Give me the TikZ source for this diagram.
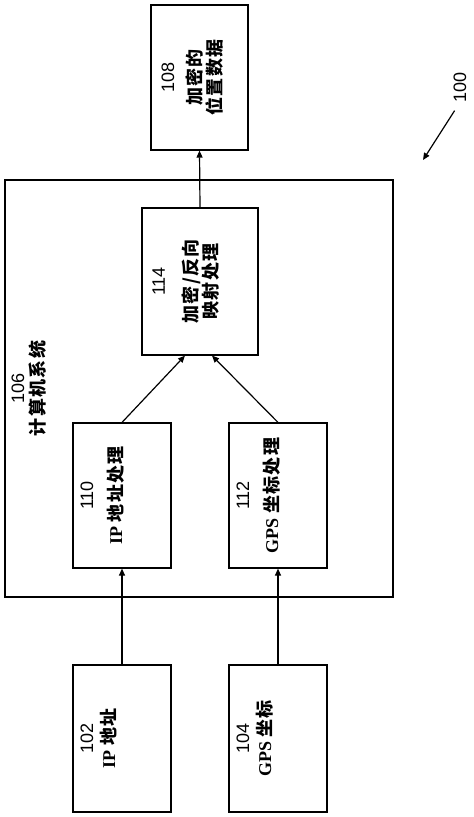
\documentclass[tikz,border=0pt]{standalone}
\usepackage{fontspec}
\setmainfont{Liberation Serif}
\newfontfamily\cjk{Noto Sans CJK SC}[LetterSpace=8]
\newfontfamily\num{Liberation Sans}
\newcommand\lblsize{\fontsize{18}{20}\selectfont}
\usetikzlibrary{arrows.meta}

\tikzset{
  blk/.style={draw, line width=1.2pt, inner sep=0pt, minimum width=98pt},
  lbl/.style={rotate=90, anchor=north, align=center, inner sep=0pt, font=\lblsize},
  flow/.style={line width=1.2pt, -{Triangle[length=7pt,width=6pt]}}
}

\begin{document}
\begin{tikzpicture}[x=1pt, y=-1pt]
  \useasboundingbox (0,0) rectangle (474,817);

  \node[blk, minimum width=97pt, minimum height=145pt] (b108) at (199.5,77.5) {};
  \node[blk, minimum width=388pt, minimum height=417pt] (b106) at (199,388.5) {};
  \node[blk, minimum width=116pt, minimum height=147pt] (b114) at (200,281.5) {};
  \node[blk, minimum height=145pt] (b110) at (122,495.5) {};
  \node[blk, minimum height=145pt] (b112) at (278,495.5) {};
  \node[blk, minimum height=147pt] (b102) at (122,738.5) {};
  \node[blk, minimum height=147pt] (b104) at (278,738.5) {};

  \node[lbl] (t108) at ([xshift=11pt]b108.west)
    {{\num 108}\\[7pt]{\cjk\bfseries 加密的}\\{\cjk\bfseries 位置数据}};
  \node[lbl] (t106) at ([xshift=7pt]b106.west)
    {{\num 106}\\[0pt]{\cjk\bfseries 计算机系统}};
  \node[lbl] (t114) at ([xshift=11pt]b114.west)
    {{\num 114}\\[13pt]{\cjk\bfseries 加密/反向}\\{\cjk\bfseries 映射处理}};
  \node[lbl] (t110) at ([xshift=8pt]b110.west)
    {{\num 110}\\[9pt]\textbf{IP} {\cjk\bfseries 地址处理}};
  \node[lbl] (t112) at ([xshift=8pt]b112.west)
    {{\num 112}\\[9pt]\textbf{GPS} {\cjk\bfseries 坐标处理}};
  \node[lbl] (t102) at ([xshift=8pt]b102.west)
    {{\num 102}\\[2pt]\textbf{IP} {\cjk\bfseries 地址}};
  \node[lbl] (t104) at ([xshift=8pt]b104.west)
    {{\num 104}\\[2pt]\textbf{GPS} {\cjk\bfseries 坐标}};

  \node[rotate=90, inner sep=0pt, font=\lblsize\num] (n100) at (460,87) {100};
  \coordinate (a100) at (423,160);

  \draw[flow] (b114.north) -- (b108.south);
  \draw[flow] (b110.north) -- ([xshift=-15pt]b114.south);
  \draw[flow] (b112.north) -- ([xshift=12pt]b114.south);
  \draw[flow] (b102.north) -- (b110.south);
  \draw[flow] (b104.north) -- (b112.south);
  \draw[flow, shorten <=10pt] (n100.west) -- (a100);
\end{tikzpicture}
\end{document}
